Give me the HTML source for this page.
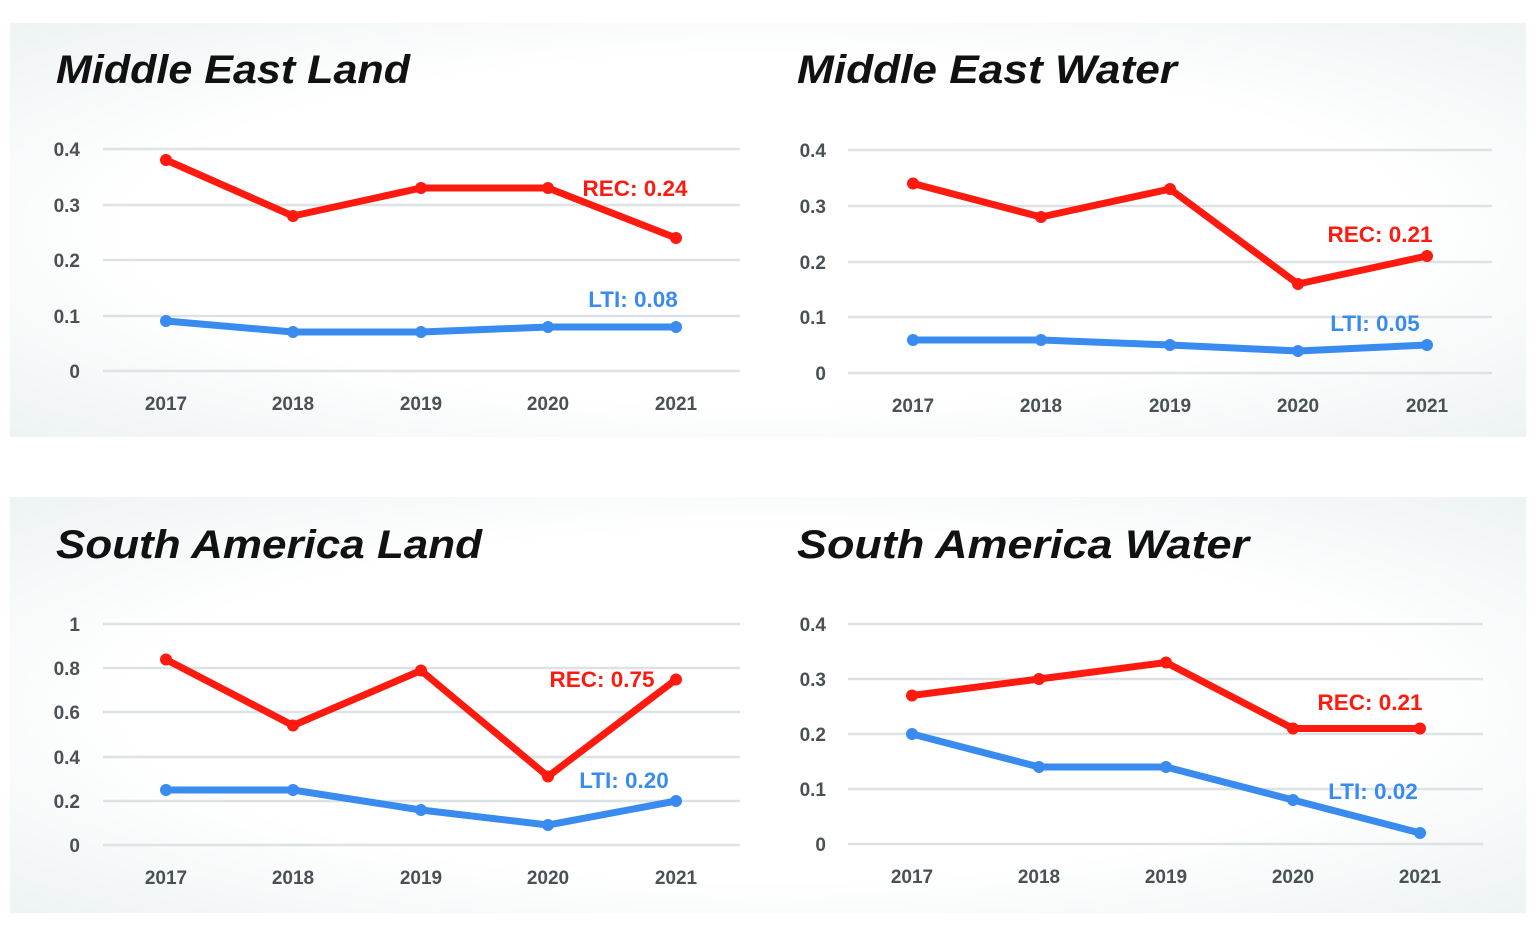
<!DOCTYPE html>
<html><head><meta charset="utf-8"><style>
html,body{margin:0;padding:0;background:#fff;}
svg{display:block;}
text{font-family:"Liberation Sans",sans-serif;}
.t{font-size:40px;font-weight:bold;font-style:italic;fill:#111;}
.y{font-size:19px;fill:#4a5155;text-anchor:end;font-weight:bold;}
.x{font-size:19px;fill:#4a5155;text-anchor:middle;font-weight:bold;}
.g{stroke:#dde2e4;stroke-width:2.5;}
.r{fill:none;stroke:#ff1a10;stroke-width:7;stroke-linejoin:round;}
.b{fill:none;stroke:#3a8bef;stroke-width:7;stroke-linejoin:round;}
.lr{font-size:22.5px;font-weight:bold;fill:#ff1a10;text-anchor:middle;}
.lb{font-size:22.5px;font-weight:bold;fill:#3a8bef;text-anchor:middle;}
</style></head><body>
<svg width="1536" height="932" viewBox="0 0 1536 932" xmlns="http://www.w3.org/2000/svg">
<defs>
<radialGradient id="bg" cx="0.5" cy="0.5" r="0.7">
<stop offset="0.6" stop-color="#ffffff"/><stop offset="1" stop-color="#eef3f4"/></radialGradient>
</defs>
<rect x="10" y="23" width="1516" height="414" fill="url(#bg)"/>
<rect x="10" y="497" width="1516" height="416" fill="url(#bg)"/>

<!-- Chart 1 -->
<text class="t" x="56" y="83" textLength="354" lengthAdjust="spacingAndGlyphs">Middle East Land</text>
<g class="g"><line x1="103" x2="740" y1="149" y2="149"/><line x1="103" x2="740" y1="205" y2="205"/><line x1="103" x2="740" y1="260" y2="260"/><line x1="103" x2="740" y1="316" y2="316"/><line x1="103" x2="740" y1="371" y2="371"/></g>
<text class="y" x="80" y="156">0.4</text><text class="y" x="80" y="212">0.3</text><text class="y" x="80" y="267">0.2</text><text class="y" x="80" y="323">0.1</text><text class="y" x="80" y="378">0</text>
<text class="x" x="166" y="410">2017</text><text class="x" x="293" y="410">2018</text><text class="x" x="421" y="410">2019</text><text class="x" x="548" y="410">2020</text><text class="x" x="676" y="410">2021</text>
<polyline class="r" points="166,160 293,216 421,188 548,188 676,238"/>
<g fill="#ff1a10"><circle cx="166" cy="160" r="6"/><circle cx="293" cy="216" r="6"/><circle cx="421" cy="188" r="6"/><circle cx="548" cy="188" r="6"/><circle cx="676" cy="238" r="6"/></g>
<polyline class="b" points="166,321 293,332 421,332 548,327 676,327"/>
<g fill="#3a8bef"><circle cx="166" cy="321" r="6"/><circle cx="293" cy="332" r="6"/><circle cx="421" cy="332" r="6"/><circle cx="548" cy="327" r="6"/><circle cx="676" cy="327" r="6"/></g>
<text class="lr" x="635" y="196">REC: 0.24</text>
<text class="lb" x="633" y="307">LTI: 0.08</text>

<!-- Chart 2 -->
<text class="t" x="797" y="83" textLength="380" lengthAdjust="spacingAndGlyphs">Middle East Water</text>
<g class="g"><line x1="848" x2="1492" y1="150" y2="150"/><line x1="848" x2="1492" y1="206" y2="206"/><line x1="848" x2="1492" y1="262" y2="262"/><line x1="848" x2="1492" y1="317" y2="317"/><line x1="848" x2="1492" y1="373" y2="373"/></g>
<text class="y" x="826" y="157">0.4</text><text class="y" x="826" y="213">0.3</text><text class="y" x="826" y="269">0.2</text><text class="y" x="826" y="324">0.1</text><text class="y" x="826" y="380">0</text>
<text class="x" x="913" y="412">2017</text><text class="x" x="1041" y="412">2018</text><text class="x" x="1170" y="412">2019</text><text class="x" x="1298" y="412">2020</text><text class="x" x="1427" y="412">2021</text>
<polyline class="r" points="913,183.5 1041,217 1170,189 1298,284 1427,256"/>
<g fill="#ff1a10"><circle cx="913" cy="183.5" r="6"/><circle cx="1041" cy="217" r="6"/><circle cx="1170" cy="189" r="6"/><circle cx="1298" cy="284" r="6"/><circle cx="1427" cy="256" r="6"/></g>
<polyline class="b" points="913,340 1041,340 1170,345 1298,351 1427,345"/>
<g fill="#3a8bef"><circle cx="913" cy="340" r="6"/><circle cx="1041" cy="340" r="6"/><circle cx="1170" cy="345" r="6"/><circle cx="1298" cy="351" r="6"/><circle cx="1427" cy="345" r="6"/></g>
<text class="lr" x="1380" y="242">REC: 0.21</text>
<text class="lb" x="1375" y="331">LTI: 0.05</text>

<!-- Chart 3 -->
<text class="t" x="56" y="558" textLength="426" lengthAdjust="spacingAndGlyphs">South America Land</text>
<g class="g"><line x1="103" x2="740" y1="624" y2="624"/><line x1="103" x2="740" y1="668" y2="668"/><line x1="103" x2="740" y1="712" y2="712"/><line x1="103" x2="740" y1="757" y2="757"/><line x1="103" x2="740" y1="801" y2="801"/><line x1="103" x2="740" y1="845" y2="845"/></g>
<text class="y" x="80" y="631">1</text><text class="y" x="80" y="675">0.8</text><text class="y" x="80" y="719">0.6</text><text class="y" x="80" y="764">0.4</text><text class="y" x="80" y="808">0.2</text><text class="y" x="80" y="852">0</text>
<text class="x" x="166" y="884">2017</text><text class="x" x="293" y="884">2018</text><text class="x" x="421" y="884">2019</text><text class="x" x="548" y="884">2020</text><text class="x" x="676" y="884">2021</text>
<polyline class="r" points="166,659.5 293,725.5 421,670.5 548,776.5 676,679.5"/>
<g fill="#ff1a10"><circle cx="166" cy="659.5" r="6"/><circle cx="293" cy="725.5" r="6"/><circle cx="421" cy="670.5" r="6"/><circle cx="548" cy="776.5" r="6"/><circle cx="676" cy="679.5" r="6"/></g>
<polyline class="b" points="166,790 293,790 421,810 548,825 676,801"/>
<g fill="#3a8bef"><circle cx="166" cy="790" r="6"/><circle cx="293" cy="790" r="6"/><circle cx="421" cy="810" r="6"/><circle cx="548" cy="825" r="6"/><circle cx="676" cy="801" r="6"/></g>
<text class="lr" x="602" y="687">REC: 0.75</text>
<text class="lb" x="624" y="788">LTI: 0.20</text>

<!-- Chart 4 -->
<text class="t" x="797" y="558" textLength="452" lengthAdjust="spacingAndGlyphs">South America Water</text>
<g class="g"><line x1="848" x2="1483" y1="624" y2="624"/><line x1="848" x2="1483" y1="679" y2="679"/><line x1="848" x2="1483" y1="734" y2="734"/><line x1="848" x2="1483" y1="789" y2="789"/><line x1="848" x2="1483" y1="844" y2="844"/></g>
<text class="y" x="826" y="631">0.4</text><text class="y" x="826" y="686">0.3</text><text class="y" x="826" y="741">0.2</text><text class="y" x="826" y="796">0.1</text><text class="y" x="826" y="851">0</text>
<text class="x" x="912" y="883">2017</text><text class="x" x="1039" y="883">2018</text><text class="x" x="1166" y="883">2019</text><text class="x" x="1293" y="883">2020</text><text class="x" x="1420" y="883">2021</text>
<polyline class="r" points="912,695.5 1039,679 1166,662.5 1293,728.5 1420,728.5"/>
<g fill="#ff1a10"><circle cx="912" cy="695.5" r="6"/><circle cx="1039" cy="679" r="6"/><circle cx="1166" cy="662.5" r="6"/><circle cx="1293" cy="728.5" r="6"/><circle cx="1420" cy="728.5" r="6"/></g>
<polyline class="b" points="912,734 1039,767 1166,767 1293,800 1420,833"/>
<g fill="#3a8bef"><circle cx="912" cy="734" r="6"/><circle cx="1039" cy="767" r="6"/><circle cx="1166" cy="767" r="6"/><circle cx="1293" cy="800" r="6"/><circle cx="1420" cy="833" r="6"/></g>
<text class="lr" x="1370" y="710">REC: 0.21</text>
<text class="lb" x="1373" y="799">LTI: 0.02</text>
</svg>
</body></html>
